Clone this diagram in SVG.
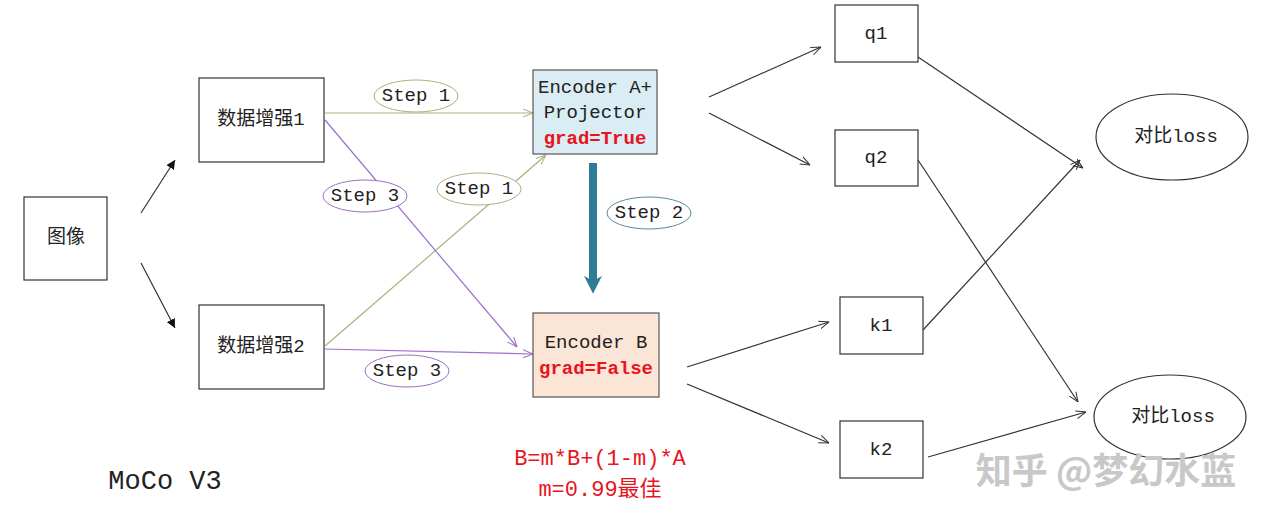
<svg xmlns="http://www.w3.org/2000/svg" width="1275" height="522" viewBox="0 0 1275 522">
<style>
text{font-family:"Liberation Mono","Noto Sans CJK SC",monospace;font-size:19px;fill:#222;text-anchor:middle;dominant-baseline:central}
.red{fill:#e8141e;font-weight:bold}
.box{fill:#fff;stroke:#333;stroke-width:1.2}
.ln{fill:none;stroke-width:1.2}
.g{stroke:#aab27e}.p{stroke:#9b6fc8}.k{stroke:#333}
</style>
<defs>
<marker id="ak" viewBox="0 0 10 10" refX="10" refY="5" markerWidth="9" markerHeight="9" orient="auto" markerUnits="userSpaceOnUse"><path d="M0,0L10,5L0,10z" fill="#111"/></marker>
<marker id="ao" viewBox="0 0 10 10" refX="10" refY="5" markerWidth="10" markerHeight="10" orient="auto" markerUnits="userSpaceOnUse"><path d="M0,1L10,5L0,9" fill="none" stroke="#333"/></marker>
<marker id="ag" viewBox="0 0 10 10" refX="10" refY="5" markerWidth="10" markerHeight="10" orient="auto" markerUnits="userSpaceOnUse"><path d="M0,1L10,5L0,9" fill="none" stroke="#aab27e"/></marker>
<marker id="ap" viewBox="0 0 10 10" refX="10" refY="5" markerWidth="10" markerHeight="10" orient="auto" markerUnits="userSpaceOnUse"><path d="M0,1L10,5L0,9" fill="none" stroke="#9b6fc8"/></marker>
<marker id="at" viewBox="0 0 10 10" refX="4" refY="5" markerWidth="18" markerHeight="20" orient="auto" markerUnits="userSpaceOnUse"><path d="M0,0L10,5L0,10L3,5z" fill="#2e7d96"/></marker>
</defs>
<g id="connectors">
<line class="ln k" x1="141" y1="213" x2="175" y2="160" marker-end="url(#ak)"/>
<line class="ln k" x1="141" y1="263" x2="175" y2="328" marker-end="url(#ak)"/>
<line class="ln g" x1="325" y1="113" x2="533" y2="113" marker-end="url(#ag)"/>
<line class="ln g" x1="325" y1="346" x2="546" y2="155" marker-end="url(#ag)"/>
<line class="ln p" x1="325" y1="120" x2="517" y2="347" marker-end="url(#ap)"/>
<line class="ln p" x1="325" y1="349" x2="533" y2="354" marker-end="url(#ap)"/>
<line x1="593" y1="163" x2="593" y2="283" stroke="#2e7d96" stroke-width="8" marker-end="url(#at)"/>
<line class="ln k" x1="709" y1="97" x2="821" y2="47" marker-end="url(#ao)"/>
<line class="ln k" x1="709" y1="113" x2="810" y2="165" marker-end="url(#ao)"/>
<line class="ln k" x1="687" y1="367" x2="829" y2="322" marker-end="url(#ao)"/>
<line class="ln k" x1="687" y1="384" x2="829" y2="443" marker-end="url(#ao)"/>
<line class="ln k" x1="918" y1="57" x2="1083" y2="168" marker-end="url(#ao)"/>
<line class="ln k" x1="918" y1="160" x2="1078" y2="402" marker-end="url(#ao)"/>
<line class="ln k" x1="923" y1="330" x2="1080" y2="160" marker-end="url(#ao)"/>
<line class="ln k" x1="928" y1="457" x2="1086" y2="412" marker-end="url(#ao)"/>
</g>
<g id="n-img"><rect class="box" x="24" y="197" width="83" height="83"/><text x="66" y="238">图像</text></g>
<g id="n-aug1"><rect class="box" x="199" y="78" width="125" height="84"/><text x="261" y="120">数据增强1</text></g>
<g id="n-aug2"><rect class="box" x="199" y="305" width="125" height="84"/><text x="261" y="347">数据增强2</text></g>
<g id="n-encA"><rect x="533" y="70" width="124" height="84" fill="#dbedf4" stroke="#555" stroke-width="1.2"/><text x="595" y="88">Encoder A+</text><text x="595" y="113">Projector</text><text class="red" x="595" y="139">grad=True</text></g>
<g id="n-encB"><rect x="533" y="313" width="126" height="84" fill="#fbe5d6" stroke="#555" stroke-width="1.2"/><text x="596" y="343">Encoder B</text><text class="red" x="596" y="369">grad=False</text></g>
<g id="n-q1"><rect class="box" x="835" y="5" width="83" height="57" stroke="#b4b48e"/><text x="876" y="34">q1</text></g>
<g id="n-q2"><rect class="box" x="835" y="130" width="83" height="56" stroke="#b4b48e"/><text x="876" y="158">q2</text></g>
<g id="n-k1"><rect class="box" x="840" y="297" width="83" height="57" stroke="#a58ec8"/><text x="881" y="326">k1</text></g>
<g id="n-k2"><rect class="box" x="840" y="421" width="83" height="57" stroke="#a58ec8"/><text x="881" y="450">k2</text></g>
<g id="n-loss1"><ellipse class="box" cx="1172" cy="137" rx="76" ry="43"/><text x="1176" y="137">对比loss</text></g>
<g id="n-loss2"><ellipse class="box" cx="1170" cy="417" rx="76" ry="42"/><text x="1173" y="417">对比loss</text></g>
<g id="labels">
<ellipse cx="416" cy="96" rx="42" ry="16" fill="#fff" stroke="#aab27e"/><text x="416" y="96">Step 1</text>
<ellipse cx="365" cy="196" rx="42" ry="16" fill="#fff" stroke="#9b6fc8"/><text x="365" y="196">Step 3</text>
<ellipse cx="479" cy="189" rx="42" ry="16" fill="#fff" stroke="#aab27e"/><text x="479" y="189">Step 1</text>
<ellipse cx="649" cy="213" rx="42" ry="16" fill="#fff" stroke="#5a8a9a"/><text x="649" y="213">Step 2</text>
<ellipse cx="407" cy="371" rx="42" ry="16" fill="#fff" stroke="#9b6fc8"/><text x="407" y="371">Step 3</text>
<text x="165" y="482" style="font-size:27px">MoCo V3</text>
<text x="600" y="459" style="font-size:22px;fill:#e8141e">B=m*B+(1-m)*A</text>
<text x="600" y="490" style="font-size:22px;fill:#e8141e">m=0.99最佳</text>
<text x="1106" y="468" style="font-size:36px;fill:#c8c8c8;font-family:'Noto Sans CJK SC',sans-serif;font-weight:bold">知乎 @梦幻水蓝</text>
</g>
</svg>
